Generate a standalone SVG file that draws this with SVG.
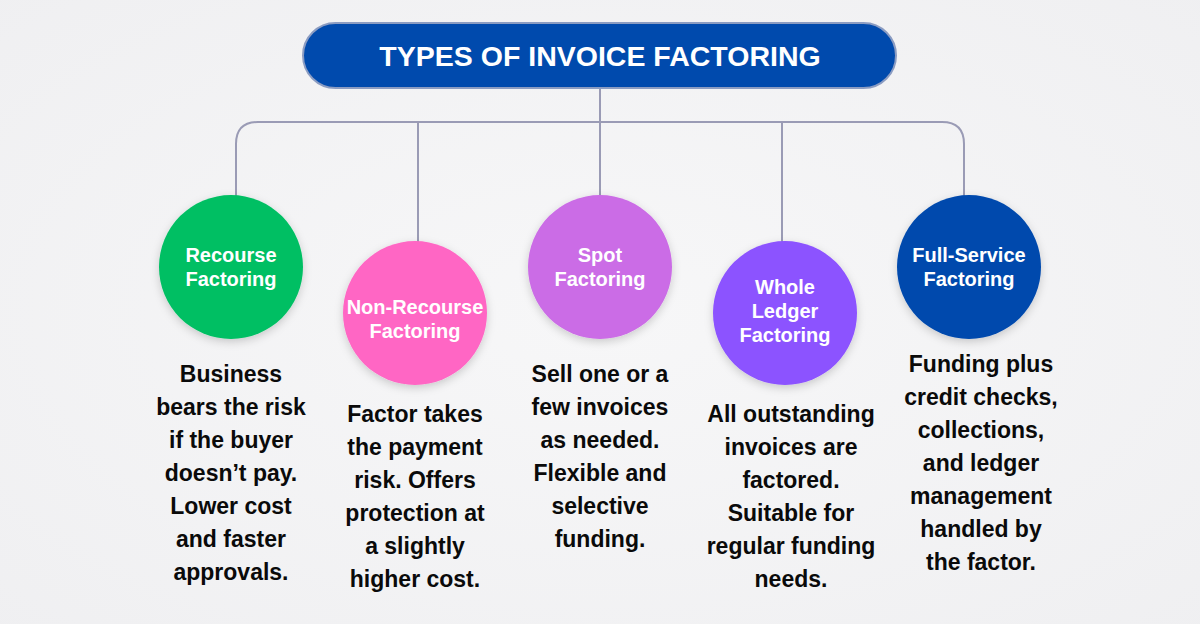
<svg xmlns="http://www.w3.org/2000/svg" width="1200" height="624" viewBox="0 0 1200 624">
  <defs>
    <filter id="sh" x="-20%" y="-20%" width="140%" height="150%">
      <feDropShadow dx="0" dy="3" stdDeviation="4" flood-color="#000" flood-opacity="0.18"/>
    </filter>
    <radialGradient id="bg" cx="50%" cy="50%" r="75%">
      <stop offset="0" stop-color="#f7f7f8"/>
      <stop offset="1" stop-color="#efeff1"/>
    </radialGradient>
  </defs>
  <style>
    .lbl { font-family: "Liberation Sans", Arial, sans-serif; font-weight: bold; font-size: 20px; fill: #ffffff; text-anchor: middle; }
    .desc { font-family: "Liberation Sans", Arial, sans-serif; font-weight: bold; font-size: 23px; fill: #0a0a0a; text-anchor: middle; }
    .title { font-family: "Liberation Sans", Arial, sans-serif; font-weight: bold; font-size: 28.5px; fill: #ffffff; text-anchor: middle; }
    .conn { fill: none; stroke: #9a9bb5; stroke-width: 2; }
  </style>
  <rect width="1200" height="624" fill="url(#bg)"/>

  <g id="connectors">
    <path class="conn" d="M600 88 V122"/>
    <path class="conn" d="M236 196 V144 Q236 122 258 122 H942 Q964 122 964 144 V196"/>
    <path class="conn" d="M418 122 V242"/>
    <path class="conn" d="M600 122 V196"/>
    <path class="conn" d="M782 122 V242"/>
  </g>

  <g id="title">
    <rect x="303" y="23" width="593" height="65" rx="32.5" fill="#004aad" stroke="#8b9cc2" stroke-width="2"/>
    <text class="title" x="600" y="66">TYPES OF INVOICE FACTORING</text>
  </g>

  <g id="recourse">
    <circle cx="231" cy="267" r="72" fill="#00bf63" filter="url(#sh)"/>
    <text class="lbl" x="231" y="262">Recourse</text>
    <text class="lbl" x="231" y="286">Factoring</text>
    <text class="desc" x="231" y="382">Business</text>
    <text class="desc" x="231" y="415">bears the risk</text>
    <text class="desc" x="231" y="448">if the buyer</text>
    <text class="desc" x="231" y="481">doesn’t pay.</text>
    <text class="desc" x="231" y="514">Lower cost</text>
    <text class="desc" x="231" y="547">and faster</text>
    <text class="desc" x="231" y="580">approvals.</text>
  </g>

  <g id="non-recourse">
    <circle cx="415" cy="313" r="72" fill="#ff66c4" filter="url(#sh)"/>
    <text class="lbl" x="415" y="314">Non-Recourse</text>
    <text class="lbl" x="415" y="338">Factoring</text>
    <text class="desc" x="415" y="422">Factor takes</text>
    <text class="desc" x="415" y="455">the payment</text>
    <text class="desc" x="415" y="488">risk. Offers</text>
    <text class="desc" x="415" y="521">protection at</text>
    <text class="desc" x="415" y="554">a slightly</text>
    <text class="desc" x="415" y="587">higher cost.</text>
  </g>

  <g id="spot">
    <circle cx="600" cy="267" r="72" fill="#cb6ce6" filter="url(#sh)"/>
    <text class="lbl" x="600" y="262">Spot</text>
    <text class="lbl" x="600" y="286">Factoring</text>
    <text class="desc" x="600" y="382">Sell one or a</text>
    <text class="desc" x="600" y="415">few invoices</text>
    <text class="desc" x="600" y="448">as needed.</text>
    <text class="desc" x="600" y="481">Flexible and</text>
    <text class="desc" x="600" y="514">selective</text>
    <text class="desc" x="600" y="547">funding.</text>
  </g>

  <g id="whole-ledger">
    <circle cx="785" cy="313" r="72" fill="#8c52ff" filter="url(#sh)"/>
    <text class="lbl" x="785" y="294">Whole</text>
    <text class="lbl" x="785" y="318">Ledger</text>
    <text class="lbl" x="785" y="342">Factoring</text>
    <text class="desc" x="791" y="422">All outstanding</text>
    <text class="desc" x="791" y="455">invoices are</text>
    <text class="desc" x="791" y="488">factored.</text>
    <text class="desc" x="791" y="521">Suitable for</text>
    <text class="desc" x="791" y="554">regular funding</text>
    <text class="desc" x="791" y="587">needs.</text>
  </g>

  <g id="full-service">
    <circle cx="969" cy="267" r="72" fill="#004aad" filter="url(#sh)"/>
    <text class="lbl" x="969" y="262">Full-Service</text>
    <text class="lbl" x="969" y="286">Factoring</text>
    <text class="desc" x="981" y="372">Funding plus</text>
    <text class="desc" x="981" y="405">credit checks,</text>
    <text class="desc" x="981" y="438">collections,</text>
    <text class="desc" x="981" y="471">and ledger</text>
    <text class="desc" x="981" y="504">management</text>
    <text class="desc" x="981" y="537">handled by</text>
    <text class="desc" x="981" y="570">the factor.</text>
  </g>
</svg>
